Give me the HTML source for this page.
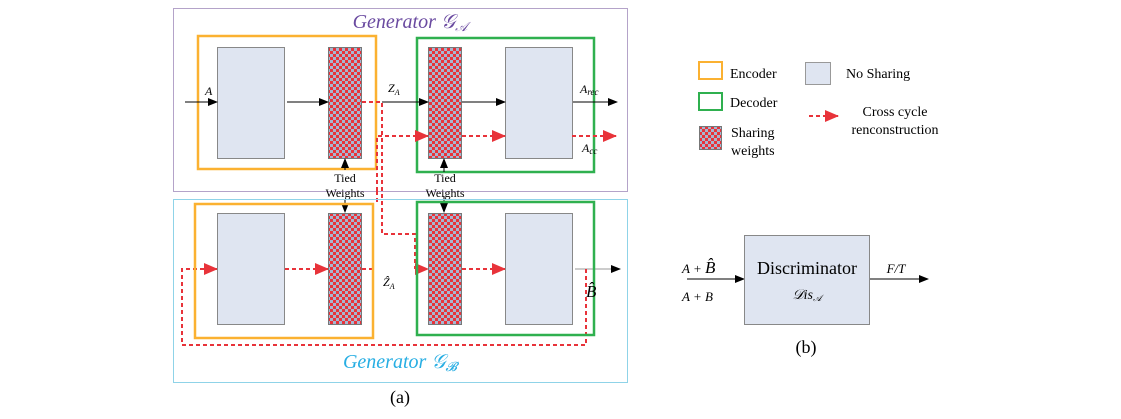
<!DOCTYPE html>
<html><head><meta charset="utf-8"><style>
body{margin:0;background:#fff}
svg{display:block;font-family:"Liberation Serif",serif}
</style></head><body>
<svg width="1121" height="419" viewBox="0 0 1121 419" xmlns="http://www.w3.org/2000/svg">
<defs>
<pattern id="ck" width="6" height="6" patternUnits="userSpaceOnUse">
<rect width="6" height="6" fill="#e8333a"/>
<rect width="3" height="3" fill="#a7b6d0"/>
<rect x="3" y="3" width="3" height="3" fill="#a7b6d0"/>
</pattern>
<marker id="ab" markerWidth="10" markerHeight="8" refX="9" refY="4" orient="auto" markerUnits="userSpaceOnUse"><path d="M0,0 L10,4 L0,8 Z" fill="#000"/></marker>
<marker id="ar" markerWidth="14" markerHeight="12" refX="13" refY="6" orient="auto" markerUnits="userSpaceOnUse"><path d="M0,0 L14,6 L0,12 Z" fill="#e8333a"/></marker>
</defs>

<!-- top generator -->
<rect x="173.5" y="8.5" width="454" height="183" fill="none" stroke="#b4a3c9" stroke-width="1"/>
<text x="410" y="28" font-size="20" font-style="italic" fill="#6a4aa0" text-anchor="middle">Generator 𝒢<tspan font-size="13" dy="3">𝒜</tspan></text>
<rect x="198" y="36" width="178" height="133" fill="none" stroke="#fbb131" stroke-width="2.5"/>
<rect x="417" y="38" width="177" height="134" fill="none" stroke="#2fb04f" stroke-width="2.5"/>
<rect x="217.5" y="47.5" width="67" height="111" fill="#dfe5f1" stroke="#888"/>
<rect x="328.5" y="47.5" width="33" height="111" fill="url(#ck)" stroke="#777"/>
<rect x="428.5" y="47.5" width="33" height="111" fill="url(#ck)" stroke="#777"/>
<rect x="505.5" y="47.5" width="67" height="111" fill="#dfe5f1" stroke="#888"/>

<g stroke="#000" stroke-width="1" fill="none">
<line x1="185" y1="102" x2="217" y2="102" marker-end="url(#ab)"/>
<line x1="287" y1="102" x2="328" y2="102" marker-end="url(#ab)"/>
<line x1="382" y1="102" x2="428" y2="102" marker-end="url(#ab)"/>
<line x1="462" y1="102" x2="505" y2="102" marker-end="url(#ab)"/>
<line x1="573" y1="102" x2="617" y2="102" marker-end="url(#ab)"/>
<line x1="345" y1="170" x2="345" y2="159" marker-end="url(#ab)"/>
<line x1="444" y1="172" x2="444" y2="159" marker-end="url(#ab)"/>
<line x1="345" y1="200" x2="345" y2="212" marker-end="url(#ab)"/>
<line x1="444" y1="196" x2="444" y2="212" marker-end="url(#ab)"/>
<line x1="575" y1="269" x2="620" y2="269" stroke="#999" marker-end="url(#ab)"/>
<line x1="870" y1="279" x2="928" y2="279" marker-end="url(#ab)"/>
<line x1="687" y1="279" x2="744" y2="279" marker-end="url(#ab)"/>
</g>

<g stroke="#e8333a" stroke-width="2" fill="none" stroke-dasharray="4,3">
<polyline points="362,102 382,102 382,234 415,234 415,269"/>
<polyline points="377,191 377,136 428,136" marker-end="url(#ar)"/>
<line x1="462" y1="136" x2="505" y2="136" marker-end="url(#ar)"/>
<line x1="572" y1="136" x2="616" y2="136" marker-end="url(#ar)"/>
<polyline points="377,191 377,202"/>
<line x1="415" y1="269" x2="428" y2="269" marker-end="url(#ar)"/>
<polyline points="586,269 586,345 182,345 182,269 217,269" marker-end="url(#ar)"/>
<line x1="285" y1="269" x2="328" y2="269" marker-end="url(#ar)"/>
<line x1="362" y1="269" x2="376" y2="269"/>
<line x1="462" y1="269" x2="505" y2="269" marker-end="url(#ar)"/>
<line x1="809" y1="116" x2="838" y2="116" marker-end="url(#ar)"/>
</g>

<text x="205" y="95" font-size="12" font-style="italic">A</text>
<text x="388" y="92" font-size="12" font-style="italic">Z<tspan font-size="8" dy="3">A</tspan></text>
<text x="580" y="93" font-size="12" font-style="italic">A<tspan font-size="9" dy="2">rec</tspan></text>
<text x="582" y="152" font-size="12" font-style="italic">A<tspan font-size="9" dy="2">cc</tspan></text>
<text x="345" y="182" font-size="12" text-anchor="middle">Tied</text>
<text x="345" y="197" font-size="12" text-anchor="middle">Weights</text>
<text x="445" y="182" font-size="12" text-anchor="middle">Tied</text>
<text x="445" y="197" font-size="12" text-anchor="middle">Weights</text>

<!-- bottom generator -->
<rect x="173.5" y="199.5" width="454" height="183" fill="none" stroke="#8fd3e8" stroke-width="1"/>
<rect x="195" y="204" width="178" height="134" fill="none" stroke="#fbb131" stroke-width="2.5"/>
<rect x="417" y="202" width="177" height="133" fill="none" stroke="#2fb04f" stroke-width="2.5"/>
<rect x="217.5" y="213.5" width="67" height="111" fill="#dfe5f1" stroke="#888"/>
<rect x="328.5" y="213.5" width="33" height="111" fill="url(#ck)" stroke="#777"/>
<rect x="428.5" y="213.5" width="33" height="111" fill="url(#ck)" stroke="#777"/>
<rect x="505.5" y="213.5" width="67" height="111" fill="#dfe5f1" stroke="#888"/>
<text x="383" y="286" font-size="12" font-style="italic">Ẑ<tspan font-size="8" dy="3">A</tspan></text>
<text x="586" y="297" font-size="17" font-style="italic">B̂</text>
<text x="400" y="368" font-size="20" font-style="italic" fill="#27aee3" text-anchor="middle">Generator 𝒢<tspan font-size="13" dy="3">𝓑</tspan></text>
<text x="400" y="403" font-size="18" text-anchor="middle">(a)</text>

<!-- legend -->
<rect x="699" y="62" width="23" height="17" fill="none" stroke="#fbb131" stroke-width="2"/>
<text x="730" y="78" font-size="14">Encoder</text>
<rect x="805.5" y="62.5" width="25" height="22" fill="#dfe5f1" stroke="#999"/>
<text x="846" y="78" font-size="14">No Sharing</text>
<rect x="699" y="93" width="23" height="17" fill="none" stroke="#2fb04f" stroke-width="2"/>
<text x="730" y="107" font-size="14">Decoder</text>
<rect x="699.5" y="126.5" width="22" height="23" fill="url(#ck)" stroke="#777"/>
<text x="731" y="137" font-size="14">Sharing</text>
<text x="731" y="155" font-size="14">weights</text>
<text x="895" y="116" font-size="14" text-anchor="middle">Cross cycle</text>
<text x="895" y="134" font-size="14" text-anchor="middle">renconstruction</text>

<!-- discriminator -->
<rect x="744.5" y="235.5" width="125" height="89" fill="#dfe5f1" stroke="#888"/>
<text x="807" y="274" font-size="18" text-anchor="middle">Discriminator</text>
<text x="807" y="299" font-size="14" font-style="italic" text-anchor="middle">𝒟is<tspan font-size="9" dy="2">𝒜</tspan></text>
<text x="682" y="273" font-size="13" font-style="italic">A + <tspan font-size="17">B̂</tspan></text>
<text x="682" y="301" font-size="13" font-style="italic">A + B</text>
<text x="896" y="273" font-size="13" font-style="italic" text-anchor="middle">F/T</text>
<text x="806" y="353" font-size="18" text-anchor="middle">(b)</text>
</svg>
</body></html>
